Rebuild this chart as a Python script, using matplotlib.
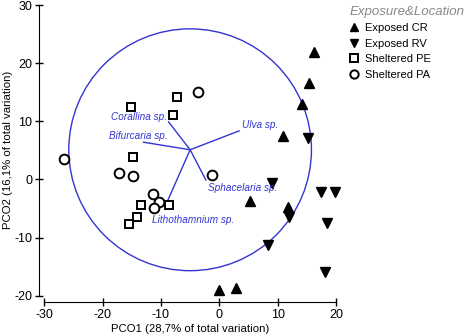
import matplotlib
matplotlib.use('Agg')
import matplotlib.pyplot as plt
from matplotlib.patches import Circle

plt.rcParams['font.family'] = ['Liberation Sans', 'DejaVu Sans']
plt.rcParams['axes.unicode_minus'] = False

# PCO scores per group
cr_x = [16.2, 15.3, 14.1, 11.0, 5.3, 11.8, -0.1, 2.8]
cr_y = [21.9, 16.5, 12.9, 7.4, -3.7, -4.7, -19.0, -18.6]
rv_x = [15.2, 9.1, 11.9, 8.3, 17.4, 19.8, 18.4, 18.2]
rv_y = [7.2, -0.6, -6.5, -11.2, -2.1, -2.1, -7.5, -16.0]
pe_x = [-15.2, -7.2, -7.9, -14.8, -13.4, -8.6, -14.1, -15.4]
pe_y = [12.4, 14.2, 11.0, 3.8, -4.4, -4.4, -6.4, -7.7]
pa_x = [-26.7, -3.7, -17.2, -14.8, -1.2, -11.3, -10.3, -11.2]
pa_y = [3.5, 15.0, 1.1, 0.6, 0.7, -2.5, -3.8, -5.0]

# vector overlay (species correlations)
origin = (-5.0, 5.1)
radius = 20.8
species = ['Corallina sp.', 'Bifurcaria sp.', 'Ulva sp.', 'Sphacelaria sp.', 'Lithothamnium sp.']
vec_x = [-8.7, -13.0, 3.4, -2.3, -9.0]
vec_y = [9.9, 6.4, 8.35, -0.1, -4.0]
lab_x = [-8.9, -8.9, 3.9, -1.9, -11.6]
lab_y = [10.8, 7.4, 9.4, -1.4, -6.9]
lab_ha = ['right', 'right', 'left', 'left', 'left']

blue = '#3434d2'

fig = plt.figure(figsize=(4.74, 3.35), dpi=100)
ax = fig.add_axes([0.0873, 0.1087, 0.6276, 0.885])

ax.add_patch(Circle(origin, radius, fill=False, edgecolor=blue, lw=1.0))
for i in range(len(species)):
    ax.plot([origin[0], vec_x[i]], [origin[1], vec_y[i]], color=blue, lw=1.0)
    ax.text(lab_x[i], lab_y[i], species[i], color=blue, style='italic',
            fontsize=7.2, ha=lab_ha[i], va='center')

ax.plot(cr_x, cr_y, '^', color='black', ms=7, ls='none', label='Exposed CR', clip_on=False)
ax.plot(rv_x, rv_y, 'v', color='black', ms=7, ls='none', label='Exposed RV', clip_on=False)
ax.plot(pe_x, pe_y, 's', mfc='white', mec='black', mew=1.4, ms=6, ls='none',
        label='Sheltered PE', clip_on=False)
ax.plot(pa_x, pa_y, 'o', mfc='white', mec='black', mew=1.4, ms=7, ls='none',
        label='Sheltered PA', clip_on=False)

ax.set_xlim(-30.5, 20.5)
ax.set_ylim(-20.5, 30.5)
ax.set_xticks([-30, -20, -10, 0, 10, 20])
ax.set_yticks([-20, -10, 0, 10, 20, 30])
for s in ['top', 'right']:
    ax.spines[s].set_visible(False)
ax.spines['left'].set_position(('outward', 1.5))
ax.spines['bottom'].set_position(('outward', 2.5))
ax.spines['left'].set_bounds(-20, 30)
ax.spines['bottom'].set_bounds(-30, 20)
ax.tick_params(direction='inout', length=6, width=1, labelsize=9, pad=2)
ax.set_xlabel('PCO1 (28,7% of total variation)', fontsize=8.2, labelpad=2)
ax.set_ylabel('PCO2 (16,1% of total variation)', fontsize=8.2)
ax.yaxis.set_label_coords(-0.097, 0.5)

leg = ax.legend(loc='upper left', bbox_to_anchor=(0.726, 1.0), bbox_transform=fig.transFigure,
                frameon=False, fontsize=8, handlelength=0.8, handletextpad=0.6,
                labelspacing=0.5, borderpad=0, title='Exposure&Location',
                title_fontproperties={'style': 'italic', 'size': 9.5})
leg.get_title().set_color('#888888')
leg._legend_box.align = 'left'
for h in leg.legend_handles:
    h.set_markersize(6)

fig.savefig('out.png', dpi=100)
